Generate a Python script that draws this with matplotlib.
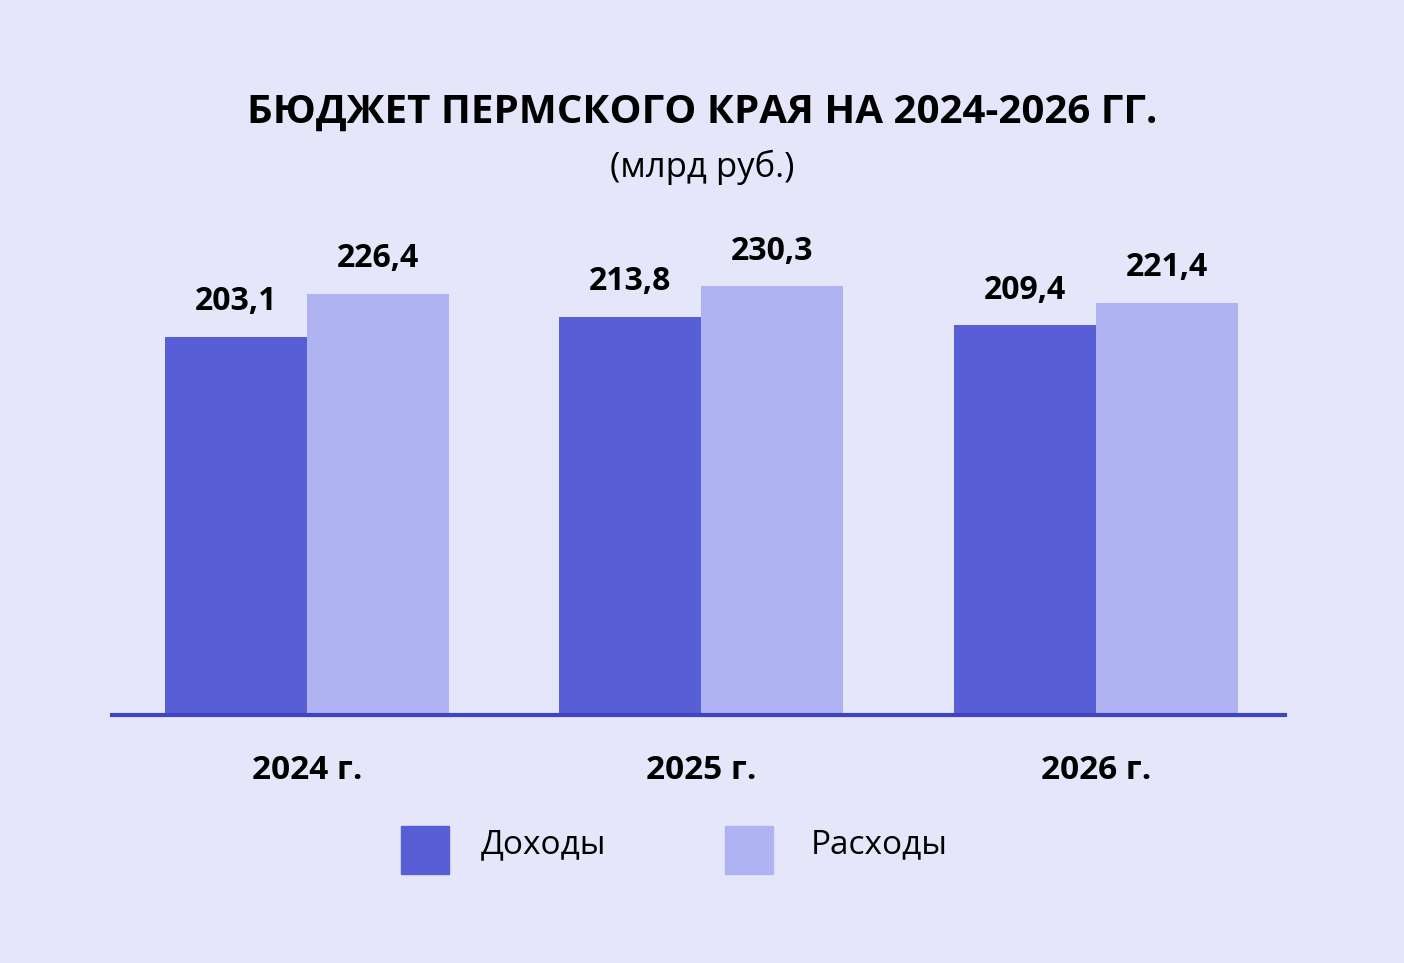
import matplotlib
matplotlib.use("Agg")
import matplotlib.pyplot as plt
from matplotlib.patches import Rectangle
import numpy as np

plt.rcParams['font.family'] = ['Open Sans', 'DejaVu Sans']

years = ['2024 г.', '2025 г.', '2026 г.']
income = [203.1, 213.8, 209.4]
expense = [226.4, 230.3, 221.4]
series_names = ['Доходы', 'Расходы']
colors = ['#585ED6', '#AFB3F2']
bg = '#E6E6FA'

W, H = 1404, 963
fig = plt.figure(figsize=(W / 100, H / 100), dpi=100, facecolor=bg)
ax = fig.add_axes([112 / W, 1 - 715 / H, (1285 - 112) / W, 500 / H])
ax.set_facecolor(bg)

x = np.arange(len(years))
w = 0.36
b1 = ax.bar(x - w / 2, income, w, color=colors[0])
b2 = ax.bar(x + w / 2, expense, w, color=colors[1])
ax.set_xlim(-0.494, 2.479)
ax.set_ylim(0, 268.6)

for bars, vals in ((b1, income), (b2, expense)):
    for r, v in zip(bars, vals):
        ax.text(r.get_x() + r.get_width() / 2, v + 10, f'{v:.1f}'.replace('.', ','),
                ha='center', va='bottom', fontsize=23, fontweight='bold')

for s in ['top', 'right', 'left']:
    ax.spines[s].set_visible(False)
ax.spines['bottom'].set_color('#3F45C0')
ax.spines['bottom'].set_linewidth(3)
ax.set_yticks([])
ax.set_xticks(x)
ax.set_xticklabels(years, fontsize=24, fontweight='bold')
ax.tick_params(axis='x', length=0, pad=28)

fig.text(0.5, 1 - 112 / H, 'БЮДЖЕТ ПЕРМСКОГО КРАЯ НА 2024-2026 ГГ.', ha='center', va='center',
         fontsize=29, fontweight='bold')
fig.text(0.5, 1 - 167 / H, '(млрд руб.)', ha='center', va='center', fontsize=25)

# legend
for sx, tx, name, c in ((401, 481, series_names[0], colors[0]), (725, 811, series_names[1], colors[1])):
    fig.add_artist(Rectangle((sx / W, 1 - 874 / H), 48 / W, 48 / H, transform=fig.transFigure,
                             color=c))
    fig.text(tx / W, 1 - 845 / H, name, ha='left', va='center', fontsize=24)

fig.savefig('out.png', dpi=100, facecolor=bg)
